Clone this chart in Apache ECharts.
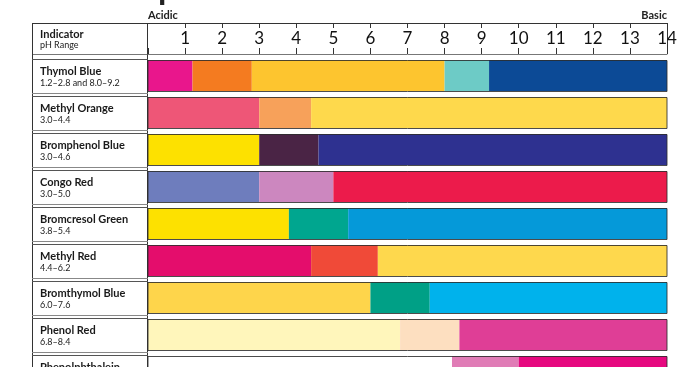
<!DOCTYPE html>
<html>
<head>
<meta charset="utf-8">
<script src="https://cdn.jsdelivr.net/npm/echarts@6/dist/echarts.min.js"></script>
<style>
html,body{margin:0;padding:0;background:#fff;}
#chart{width:700px;height:367px;}
</style>
</head>
<body>
<div id="chart"></div>
<script>
const indicators = ['Thymol Blue','Methyl Orange','Bromphenol Blue','Congo Red','Bromcresol Green','Methyl Red','Bromthymol Blue','Phenol Red','Phenolphthalein'];
const phRanges = ['1.2–2.8 and 8.0–9.2','3.0–4.4','3.0–4.6','3.0–5.0','3.8–5.4','4.4–6.2','6.0–7.6','6.8–8.4','8.2–10.0'];
const breakpoints = [
  [0,1.2,2.8,8.0,9.2,14],
  [0,3.0,4.4,14],
  [0,3.0,4.6,14],
  [0,3.0,5.0,14],
  [0,3.8,5.4,14],
  [0,4.4,6.2,14],
  [0,6.0,7.6,14],
  [0,6.8,8.4,14],
  [0,8.2,10.0,14]
];
const segmentColors = [
  ['#e9168c','#f47b20','#fdc52f','#6dcbc6','#0c4a96'],
  ['#ee5677','#f7a15a','#fed94c'],
  ['#fde100','#4a2445','#2e3190'],
  ['#6e7dbd','#cc87bf','#ec1b4b'],
  ['#fde100','#00a68f','#0599d9'],
  ['#e40d6c','#f04a38','#fed84d'],
  ['#fed54b','#00a086','#00b2ec'],
  ['#fff6bb','#fddfc0','#df3e96'],
  ['#ffffff','#e07cb6','#e6087f']
];
const phMin = 0, phMax = 14, phStep = 1;

const segData = [];
breakpoints.forEach((b, i) => {
  for (let j = 0; j < b.length - 1; j++) {
    segData.push({ value: [b[j], b[j+1], i], itemStyle: { color: segmentColors[i][j] } });
  }
});
const rowData = breakpoints.map((b, i) => [b[0], b[b.length-1], i]);

const FONT = 'Lato, "Open Sans", sans-serif';
const chart = echarts.init(document.getElementById('chart'), null, { renderer: 'canvas' });

function segRender(params, api) {
  const s = api.coord([api.value(0), api.value(2)]);
  const e = api.coord([api.value(1), api.value(2)]);
  const h = api.size([0, 1])[1] * 0.84;
  return {
    type: 'rect',
    shape: { x: s[0], y: s[1] - h / 2, width: e[0] - s[0], height: h },
    style: { fill: api.visual('color') }
  };
}
function outlineRender(params, api) {
  const s = api.coord([api.value(0), api.value(2)]);
  const e = api.coord([api.value(1), api.value(2)]);
  const h = api.size([0, 1])[1] * 0.84;
  const y = Math.round(s[1] - h / 2) + 0.5;
  const hh = Math.round(h);
  return {
    type: 'group',
    children: [
      { type: 'rect', shape: { x: s[0], y: y, width: e[0] - s[0], height: hh },
        style: { fill: 'none', stroke: 'rgba(45,45,45,0.85)', lineWidth: 1 } },
      { type: 'line', shape: { x1: 32, y1: y - 1, x2: s[0], y2: y - 1 },
        style: { stroke: '#555', lineWidth: 1 } },
      { type: 'line', shape: { x1: 32, y1: y + hh + 2, x2: s[0], y2: y + hh + 2 },
        style: { stroke: '#888', lineWidth: 1 } }
    ]
  };
}

chart.setOption({
  animation: false,
  backgroundColor: '#ffffff',
  grid: { left: 148, width: 519, top: 57, height: 333, outerBoundsMode: 'none', containLabel: false },
  xAxis: [
    {
      type: 'value', min: phMin, max: phMax, interval: phStep, position: 'top', offset: 34,
      axisLine: { show: true, lineStyle: { color: '#333', width: 1 } },
      axisTick: { show: true, inside: true, length: 5, lineStyle: { color: '#333' } },
      axisLabel: { inside: true, margin: 7, fontSize: 17, color: '#111', fontFamily: FONT,
        showMinLabel: false, showMaxLabel: true,
        formatter: v => (v === phMin ? '' : String(v)) },
      splitLine: { show: false }
    },
    {
      type: 'value', min: phMin, max: phMax, interval: phStep, position: 'top', offset: 3,
      axisLine: { show: true, lineStyle: { color: '#777', width: 1 } },
      axisTick: { show: true, inside: false, length: 6, lineStyle: { color: '#333' } },
      axisLabel: { show: false },
      splitLine: { show: false }
    }
  ],
  yAxis: {
    type: 'category', inverse: true, data: indicators,
    axisLine: { show: false }, axisTick: { show: false }, splitLine: { show: false },
    axisLabel: {
      align: 'left', margin: 108, fontFamily: FONT, padding: [4, 0, 0, 0],
      formatter: (v, idx) => '{n|' + v + '}\n{r|' + phRanges[idx] + '}',
      rich: {
        n: { fontSize: 11, fontWeight: 'bold', color: '#1a1a1a', fontFamily: FONT, lineHeight: 12 },
        r: { fontSize: 9, color: '#222', fontFamily: FONT, lineHeight: 12 }
      }
    }
  },
  graphic: [
    { type: 'text', x: 158, y: 5, silent: true,
      style: { text: 'pH Indicator Chart', font: 'bold 34px ' + FONT, fill: '#222', verticalAlign: 'bottom', align: 'left' } },
    { type: 'text', x: 148, y: 15, silent: true,
      style: { text: 'Acidic', font: 'bold 11px ' + FONT, fill: '#222', verticalAlign: 'middle', align: 'left' } },
    { type: 'text', x: 667, y: 15, silent: true,
      style: { text: 'Basic', font: 'bold 11px ' + FONT, fill: '#222', verticalAlign: 'middle', align: 'right' } },
    { type: 'text', x: 40, y: 34, silent: true,
      style: { text: 'Indicator', font: 'bold 11px ' + FONT, fill: '#1a1a1a', verticalAlign: 'middle' } },
    { type: 'text', x: 40, y: 45, silent: true,
      style: { text: 'pH Range', font: '9px ' + FONT, fill: '#222', verticalAlign: 'middle' } },
    { type: 'line', silent: true, shape: { x1: 32, y1: 23.5, x2: 148, y2: 23.5 }, style: { stroke: '#333', lineWidth: 1 } },
    { type: 'line', silent: true, shape: { x1: 32, y1: 54.5, x2: 148, y2: 54.5 }, style: { stroke: '#777', lineWidth: 1 } },
    { type: 'line', silent: true, shape: { x1: 32.5, y1: 23, x2: 32.5, y2: 367 }, style: { stroke: '#333', lineWidth: 1 } },
    { type: 'line', silent: true, shape: { x1: 147.5, y1: 23, x2: 147.5, y2: 367 }, style: { stroke: '#333', lineWidth: 1 } },
    { type: 'line', silent: true, shape: { x1: 667.5, y1: 23, x2: 667.5, y2: 54 }, style: { stroke: '#333', lineWidth: 1 } }
  ],
  series: [
    { type: 'custom', name: 'segments', xAxisIndex: 0, clip: false, renderItem: segRender,
      encode: { x: [0, 1], y: 2 }, data: segData },
    { type: 'custom', name: 'outline', xAxisIndex: 0, clip: false, renderItem: outlineRender,
      encode: { x: [0, 1], y: 2 }, data: rowData, z: 3 }
  ]
});
</script>
</body>
</html>
